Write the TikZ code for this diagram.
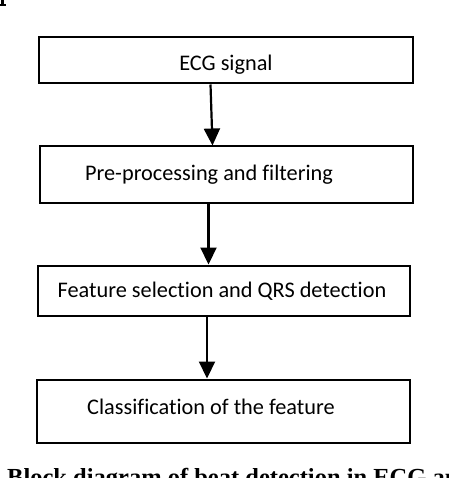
\documentclass[tikz,border=0pt]{standalone}
\usepackage{fontspec}
\setmainfont{Carlito}[Ligatures=NoCommon]
\newfontfamily\capfont{Liberation Serif}
\usetikzlibrary{arrows.meta}
\tikzset{
  stagebox/.style={draw=black, line width=2pt, fill=none},
  stagetext/.style={anchor=base, inner sep=0pt, font=\fontsize{22.3}{24}\selectfont},
  flowarrow/.style={line width=2.2pt, -{Triangle[length=17pt,width=16pt]}}
}
\begin{document}
\begin{tikzpicture}[x=1pt,y=-1pt]
\useasboundingbox[fill=white] (0,0) rectangle (448,478);
% boxes
\node[stagebox, minimum width=374pt, minimum height=46pt, inner sep=0pt] (b1) at (225.5,60.5) {};
\node[stagebox, minimum width=373pt, minimum height=56pt, inner sep=0pt] (b2) at (226,174.5) {};
\node[stagebox, minimum width=372pt, minimum height=50pt, inner sep=0pt] (b3) at (223.5,290.5) {};
\node[stagebox, minimum width=373pt, minimum height=63pt, inner sep=0pt] (b4) at (223,411) {};
% texts
\node[stagetext] (t1) at (226,71) {ECG signal};
\node[stagetext] (t2) at (209,180) {Pre-processing and filtering};
\node[stagetext] (t3) at (222,297) {Feature selection and QRS detection};
\node[stagetext] (t4) at (211,414) {Classification of the feature};
% arrows
\draw[flowarrow] ([xshift=-15pt]b1.south) -- ([xshift=-13.5pt]b2.north);
\draw[flowarrow] ([xshift=-17.5pt]b2.south) -- ([xshift=-15pt]b3.north);
\draw[flowarrow] ([xshift=-16.5pt]b3.south) -- ([xshift=-16pt]b4.north);
% caption (cut off by the frame)
\node[anchor=base west, inner sep=0pt, font=\capfont\bfseries\fontsize{24.5}{26}\selectfont] (cap) at (7,485) {Block diagram of beat detection in ECG and};
% fragment of a glyph at top-left corner
\fill[black] (1,0) rectangle (4,6);
\fill[black] (0,4) rectangle (6,6);
\end{tikzpicture}
\end{document}
